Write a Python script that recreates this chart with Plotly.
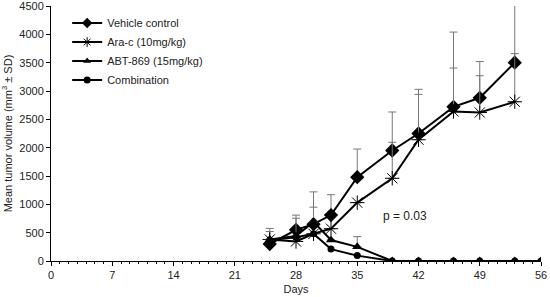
import plotly.graph_objects as go

days_main = [25, 28, 30, 32, 35, 39, 42, 46, 49, 53]
days_long = [25, 28, 30, 32, 35, 39, 42, 46, 49, 53, 56]

vehicle = [300, 550, 650, 810, 1480, 1950, 2250, 2720, 2880, 3500]
vehicle_sd = [275, 260, 570, 360, 495, 680, 780, 1320, 640, 1300]

ara_c = [380, 345, 480, 570, 1030, 1460, 2140, 2640, 2620, 2810]
ara_c_sd = [140, 410, 0, 0, 0, 635, 800, 765, 650, 850]

abt = [380, 440, 690, 370, 250, 0, 0, 0, 0, 0, 0]
abt_sd = [0, 0, 260, 0, 180, 0, 0, 0, 0, 0, 0]

combo = [370, 420, 480, 210, 95, 0, 0, 0, 0, 0, 0]

names = ["Vehicle control", "Ara-c (10mg/kg)", "ABT-869 (15mg/kg)", "Combination"]
x_ticks = [0, 7, 14, 21, 28, 35, 42, 49, 56]
y_ticks = [0, 500, 1000, 1500, 2000, 2500, 3000, 3500, 4000, 4500]

FONT = "Liberation Sans, Arial, sans-serif"
TXT = "#222222"

def err(sd):
    return dict(type="data", symmetric=False, array=sd, arrayminus=[0] * len(sd),
                color="#777777", thickness=1, width=4)

styles = [
    dict(symbol="diamond", size=11, color="black"),
    dict(symbol="asterisk-open", size=12, color="black", line=dict(color="black", width=1)),
    dict(symbol="triangle-up", size=9, color="black"),
    dict(symbol="circle", size=7, color="black"),
]
legend_styles = [
    dict(symbol="diamond", size=8, color="black"),
    dict(symbol="asterisk-open", size=8, color="black", line=dict(color="black", width=1)),
    dict(symbol="triangle-up", size=7, color="black"),
    dict(symbol="circle", size=7, color="black"),
]
series = [
    (days_main, vehicle, vehicle_sd),
    (days_main, ara_c, ara_c_sd),
    (days_long, abt, abt_sd),
    (days_long, combo, None),
]

fig = go.Figure()
for (xs, ys, sd), name, st in zip(series, names, styles):
    fig.add_trace(go.Scatter(x=xs, y=ys, name=name, mode="lines+markers", showlegend=False,
                             line=dict(color="black", width=2), marker=st,
                             error_y=err(sd) if sd is not None else None))
for name, st in zip(names, legend_styles):
    fig.add_trace(go.Scatter(x=[None], y=[None], name=name, mode="lines+markers",
                             line=dict(color="black", width=2), marker=st))

fig.add_annotation(x=37.7, y=800, text="p = 0.03", showarrow=False, xanchor="left",
                   font=dict(family=FONT, size=12, color=TXT))

fig.update_layout(
    width=550, height=297,
    margin=dict(l=51, r=9, t=6, b=36, autoexpand=False),
    paper_bgcolor="white", plot_bgcolor="white",
    font=dict(family=FONT, size=11, color=TXT),
    showlegend=True,
    legend=dict(x=0.033, y=0.99, xanchor="left", yanchor="top",
                bgcolor="rgba(0,0,0,0)", font=dict(size=11, color=TXT),
                itemwidth=30, tracegroupgap=0),
    xaxis=dict(range=[0, 56], tickmode="array", tickvals=x_ticks, automargin=False,
               ticklabeloverflow="allow",
               showgrid=False, zeroline=False, showline=True, linecolor="black", linewidth=1,
               ticks="outside", ticklen=4, tickcolor="black",
               minor=dict(dtick=1, ticks="outside", ticklen=2, tickcolor="black"),
               title=dict(text="Days", font=dict(size=11), standoff=5)),
    yaxis=dict(range=[0, 4500], tickmode="array", tickvals=y_ticks, automargin=False,
               ticklabeloverflow="allow",
               showgrid=False, zeroline=False, showline=True, linecolor="black", linewidth=1,
               ticks="outside", ticklen=4, tickcolor="black",
               title=dict(text="Mean tumor volume (mm<sup>3</sup> ± SD)", font=dict(size=11), standoff=6)),
)

fig.write_html("out.html", config={"displayModeBar": False},
               post_script="document.body.style.margin='0px';")
